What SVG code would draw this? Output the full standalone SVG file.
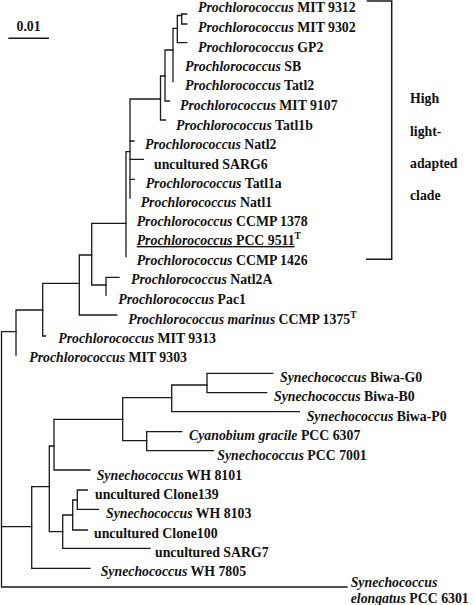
<svg xmlns="http://www.w3.org/2000/svg" width="474" height="605" viewBox="0 0 474 605">
<style>
.t{font-family:"Liberation Serif","Times New Roman",serif;font-size:13.8px;font-weight:bold;fill:#111}
.i{font-style:italic}
.sup{font-size:9.5px}
.br{fill:none;stroke:#1a1a1a;stroke-width:1.3;stroke-linecap:square}
</style>
<rect width="474" height="605" fill="#fff"/>
<g id="scale">
<line x1="8.3" y1="38.3" x2="49" y2="38.3" stroke="#1a1a1a" stroke-width="1.6"/>
<text class="t" x="16.5" y="30.7">0.01</text>
</g>
<g id="connectors" class="br">
<path d="M186.7,14 H181.7 V24 H186.7"/>
<path d="M181.7,15.5 H177.3 V42.7 H186.7"/>
<path d="M177.3,28.3 H173 V81.7"/>
<path d="M173,50 H165 V101 H169.5"/>
<path d="M165,76 H160.5 V120 H165.5"/>
<path d="M160.5,99 H130 V198"/>
<path d="M130,141 H134 M130,159.3 H143.3 M130,179.3 H134.3"/>
<path d="M130,151.7 H126 V256.7"/>
<path d="M126,223.3 H91.7 V285 H106"/>
<path d="M106,295 V277.3 H119"/>
<path d="M91.7,255 H79.3 V315 H116.7"/>
<path d="M79.3,283.3 H42.7 V336 H45.5"/>
<path d="M42.7,310 H16 V355"/>
<path d="M16,331.7 H1.5 V587 H347"/>
<path d="M1.5,526.7 H31.7"/>
<path d="M272.7,373.3 H207 V392.7 H266.7"/>
<path d="M207,385 H171.7 V411.7 H299.3"/>
<path d="M181.7,431.7 H146.7 V450.7 H213.3"/>
<path d="M171.7,397.7 H122.7 V440.7 H146.7"/>
<path d="M122.7,419.3 H54 V470 H90"/>
<path d="M54,446 H49.3 V531.7 H62.7"/>
<path d="M49.3,486.7 H31.7 V568.3 H90"/>
<path d="M72.7,515 H62.7 V548.3 H150"/>
<path d="M77.3,500 H72.7 V530 H87.3"/>
<path d="M87.3,490 H77.3 V509.3 H98.3"/>
</g>
<g id="clade-bracket">
<path d="M366.7,1 H391.7 V259.3 H366" fill="none" stroke="#1a1a1a" stroke-width="1.5"/>
<text class="t" x="410" y="103">High</text>
<text class="t" x="410" y="135.7">light-</text>
<text class="t" x="410" y="168.3">adapted</text>
<text class="t" x="410" y="200">clade</text>
</g>
<g id="mit9312"><text class="t" x="198" y="12.3"><tspan class="i">Prochlorococcus</tspan> MIT 9312</text></g>
<g id="mit9302"><text class="t" x="198" y="31.7"><tspan class="i">Prochlorococcus</tspan> MIT 9302</text></g>
<g id="gp2"><text class="t" x="198" y="51.5"><tspan class="i">Prochlorococcus</tspan> GP2</text></g>
<g id="sb"><text class="t" x="185" y="70.7"><tspan class="i">Prochlorococcus</tspan> SB</text></g>
<g id="tatl2"><text class="t" x="185" y="90"><tspan class="i">Prochlorococcus</tspan> Tatl2</text></g>
<g id="mit9107"><text class="t" x="180" y="110"><tspan class="i">Prochlorococcus</tspan> MIT 9107</text></g>
<g id="tatl1b"><text class="t" x="176" y="130"><tspan class="i">Prochlorococcus</tspan> Tatl1b</text></g>
<g id="natl2"><text class="t" x="145" y="149.3"><tspan class="i">Prochlorococcus</tspan> Natl2</text></g>
<g id="sarg6"><text class="t" x="154" y="169">uncultured SARG6</text></g>
<g id="tatl1a"><text class="t" x="145.7" y="187.7"><tspan class="i">Prochlorococcus</tspan> Tatl1a</text></g>
<g id="natl1"><text class="t" x="140.7" y="207"><tspan class="i">Prochlorococcus</tspan> Natl1</text></g>
<g id="ccmp1378"><text class="t" x="136.7" y="226.3"><tspan class="i">Prochlorococcus</tspan> CCMP 1378</text></g>
<g id="pcc9511"><text class="t" x="136.7" y="245"><tspan text-decoration="underline"><tspan class="i">Prochlorococcus</tspan> PCC 9511</tspan><tspan class="sup" dy="-6">T</tspan></text></g>
<g id="ccmp1426"><text class="t" x="136.7" y="265"><tspan class="i">Prochlorococcus</tspan> CCMP 1426</text></g>
<g id="natl2a"><text class="t" x="131" y="284"><tspan class="i">Prochlorococcus</tspan> Natl2A</text></g>
<g id="pac1"><text class="t" x="118.3" y="303.5"><tspan class="i">Prochlorococcus</tspan> Pac1</text></g>
<g id="ccmp1375"><text class="t" x="128.3" y="323.5"><tspan class="i">Prochlorococcus marinus</tspan> CCMP 1375<tspan class="sup" dy="-6">T</tspan></text></g>
<g id="mit9313"><text class="t" x="58.3" y="343"><tspan class="i">Prochlorococcus</tspan> MIT 9313</text></g>
<g id="mit9303"><text class="t" x="29.3" y="362"><tspan class="i">Prochlorococcus</tspan> MIT 9303</text></g>
<g id="biwag0"><text class="t" x="280" y="381.7"><tspan class="i">Synechococcus</tspan> Biwa-G0</text></g>
<g id="biwab0"><text class="t" x="274" y="401"><tspan class="i">Synechococcus</tspan> Biwa-B0</text></g>
<g id="biwap0"><text class="t" x="306.7" y="421"><tspan class="i">Synechococcus</tspan> Biwa-P0</text></g>
<g id="pcc6307"><text class="t" x="189" y="440"><tspan class="i">Cyanobium gracile</tspan> PCC 6307</text></g>
<g id="pcc7001"><text class="t" x="217.3" y="460"><tspan class="i">Synechococcus</tspan> PCC 7001</text></g>
<g id="wh8101"><text class="t" x="96.7" y="480"><tspan class="i">Synechococcus</tspan> WH 8101</text></g>
<g id="clone139"><text class="t" x="95" y="499">uncultured Clone139</text></g>
<g id="wh8103"><text class="t" x="106" y="518"><tspan class="i">Synechococcus</tspan> WH 8103</text></g>
<g id="clone100"><text class="t" x="94" y="537.7">uncultured Clone100</text></g>
<g id="sarg7"><text class="t" x="155" y="556.7">uncultured SARG7</text></g>
<g id="wh7805"><text class="t" x="100.7" y="575.7"><tspan class="i">Synechococcus</tspan> WH 7805</text></g>
<g id="pcc6301"><text class="t" x="350.7" y="587"><tspan class="i">Synechococcus</tspan></text><text class="t" x="350.7" y="603"><tspan class="i">elongatus</tspan> PCC 6301</text></g>
</svg>
